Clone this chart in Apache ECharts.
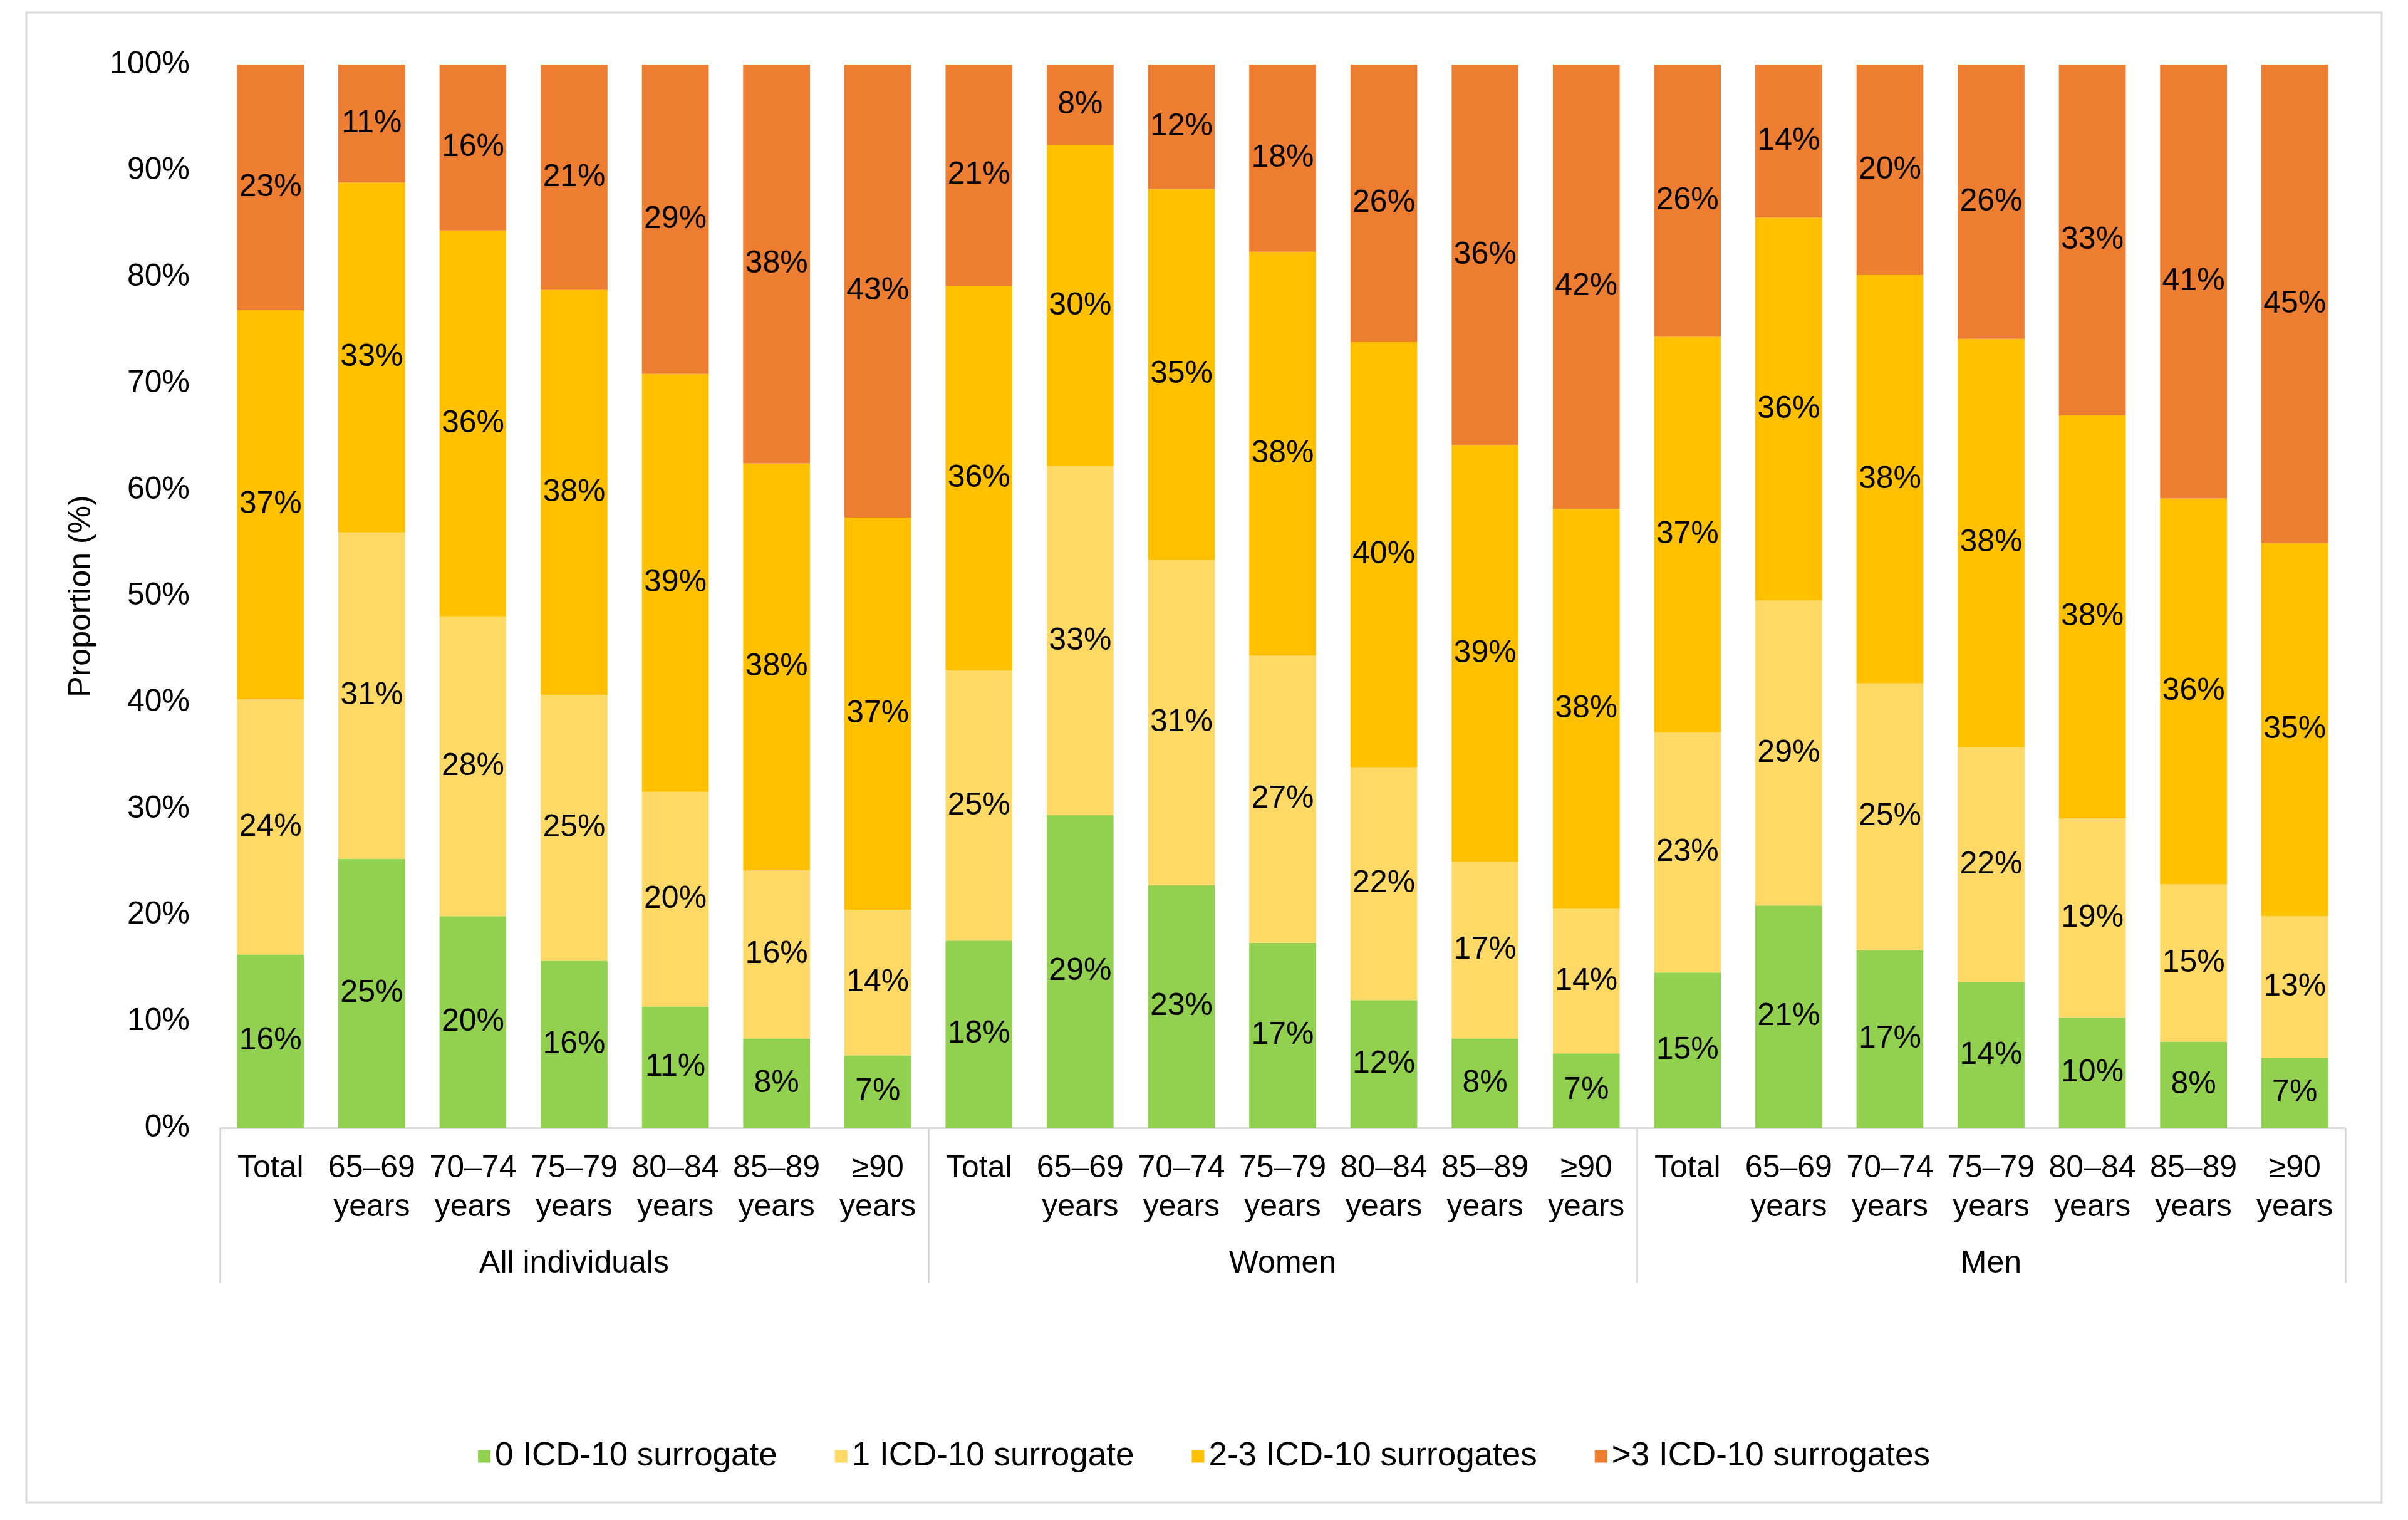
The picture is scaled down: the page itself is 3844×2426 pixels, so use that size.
<!DOCTYPE html>
<html>
<head>
<meta charset="utf-8">
<script src="https://cdn.jsdelivr.net/npm/echarts@6/dist/echarts.min.js"></script>
<style>
  html, body { margin: 0; padding: 0; background: #fff; }
  #main { width: 3844px; height: 2426px; }
</style>
</head>
<body>
<div id="main"></div>
<script>
const groups = ['All individuals', 'Women', 'Men'];
const ageBands = ['Total', '65–69\nyears', '70–74\nyears', '75–79\nyears', '80–84\nyears', '85–89\nyears', '≥90\nyears'];
const categories = groups.flatMap(() => ageBands);

const seriesNames = ['0 ICD-10 surrogate', '1 ICD-10 surrogate', '2-3 ICD-10 surrogates', '>3 ICD-10 surrogates'];
const colors = ['#92D050', '#FFD966', '#FFC000', '#ED7D31'];

// values in %, order: All individuals (7), Women (7), Men (7)
const zeroSurrogate = [16.3, 25.3, 19.9, 15.7, 11.4, 8.4, 6.8,
                       17.6, 29.4, 22.8, 17.4, 12.0, 8.4, 7.0,
                       14.6, 20.9, 16.7, 13.7, 10.4, 8.1, 6.6];
const oneSurrogate = [24.0, 30.7, 28.2, 25.0, 20.2, 15.8, 13.7,
                      25.4, 32.8, 30.6, 27.0, 21.9, 16.6, 13.6,
                      22.6, 28.7, 25.1, 22.1, 18.7, 14.8, 13.3];
const twoThreeSurrogates = [36.6, 32.9, 36.3, 38.1, 39.3, 38.3, 36.9,
                            36.2, 30.2, 34.9, 38.0, 40.0, 39.2, 37.6,
                            37.2, 36.0, 38.4, 38.4, 37.9, 36.3, 35.1];
const overThreeSurrogates = [23.1, 11.1, 15.6, 21.2, 29.1, 37.6, 42.6,
                             20.8, 7.6, 11.7, 17.6, 26.1, 35.8, 41.8,
                             25.6, 14.4, 19.8, 25.8, 33.0, 40.8, 45.0];
const yTicks = [0, 10, 20, 30, 40, 50, 60, 70, 80, 90, 100];

const seriesValues = [zeroSurrogate, oneSurrogate, twoThreeSurrogates, overThreeSurrogates];
const font = 'Liberation Sans, Arial, sans-serif';

const chart = echarts.init(document.getElementById('main'));
const option = {
    animation: false,
    color: colors,
    textStyle: { fontFamily: font },
    graphic: [{
        type: 'rect',
        shape: { x: 42, y: 20, width: 3760, height: 2378 },
        style: { fill: 'none', stroke: '#D9D9D9', lineWidth: 3 },
        silent: true
    }],
    grid: { left: 351, right: 100, top: 103, bottom: 626 },
    legend: {
        data: seriesNames,
        bottom: 70,
        left: 'center',
        itemWidth: 20,
        itemHeight: 20,
        itemGap: 92,
        icon: 'rect',
        textStyle: { fontSize: 53, color: '#000', fontFamily: font, padding: [0, 0, 0, 2] }
    },
    xAxis: [{
        type: 'category',
        data: categories,
        axisLine: { lineStyle: { color: '#D9D9D9', width: 3 } },
        axisTick: { show: false },
        axisLabel: {
            interval: 0, fontSize: 50, color: '#000', fontFamily: font,
            margin: 34, lineHeight: 62
        }
    }, {
        type: 'category',
        position: 'bottom',
        data: groups,
        axisLine: { show: false },
        axisTick: { show: true, length: 248, lineStyle: { color: '#D9D9D9', width: 3 } },
        axisLabel: { fontSize: 50, color: '#000', fontFamily: font, margin: 192 }
    }],
    yAxis: {
        type: 'value',
        min: yTicks[0],
        max: yTicks[yTicks.length - 1],
        interval: 10,
        name: 'Proportion (%)',
        nameLocation: 'middle',
        nameGap: 196,
        nameTextStyle: { fontSize: 50, color: '#000', fontFamily: font },
        axisLine: { show: false },
        axisTick: { show: false },
        splitLine: { show: false },
        axisLabel: { formatter: '{value}%', fontSize: 50, color: '#000', fontFamily: font, margin: 48 }
    },
    series: seriesNames.map((name, i) => ({
        name: name,
        type: 'bar',
        stack: 'total',
        xAxisIndex: 0,
        barWidth: '66%',
        data: seriesValues[i],
        itemStyle: { color: colors[i] },
        label: {
            show: true,
            position: 'inside',
            fontSize: 50,
            color: '#000',
            fontFamily: font,
            formatter: p => Math.round(p.value) + '%'
        }
    }))
};
chart.setOption(option);
</script>
</body>
</html>
